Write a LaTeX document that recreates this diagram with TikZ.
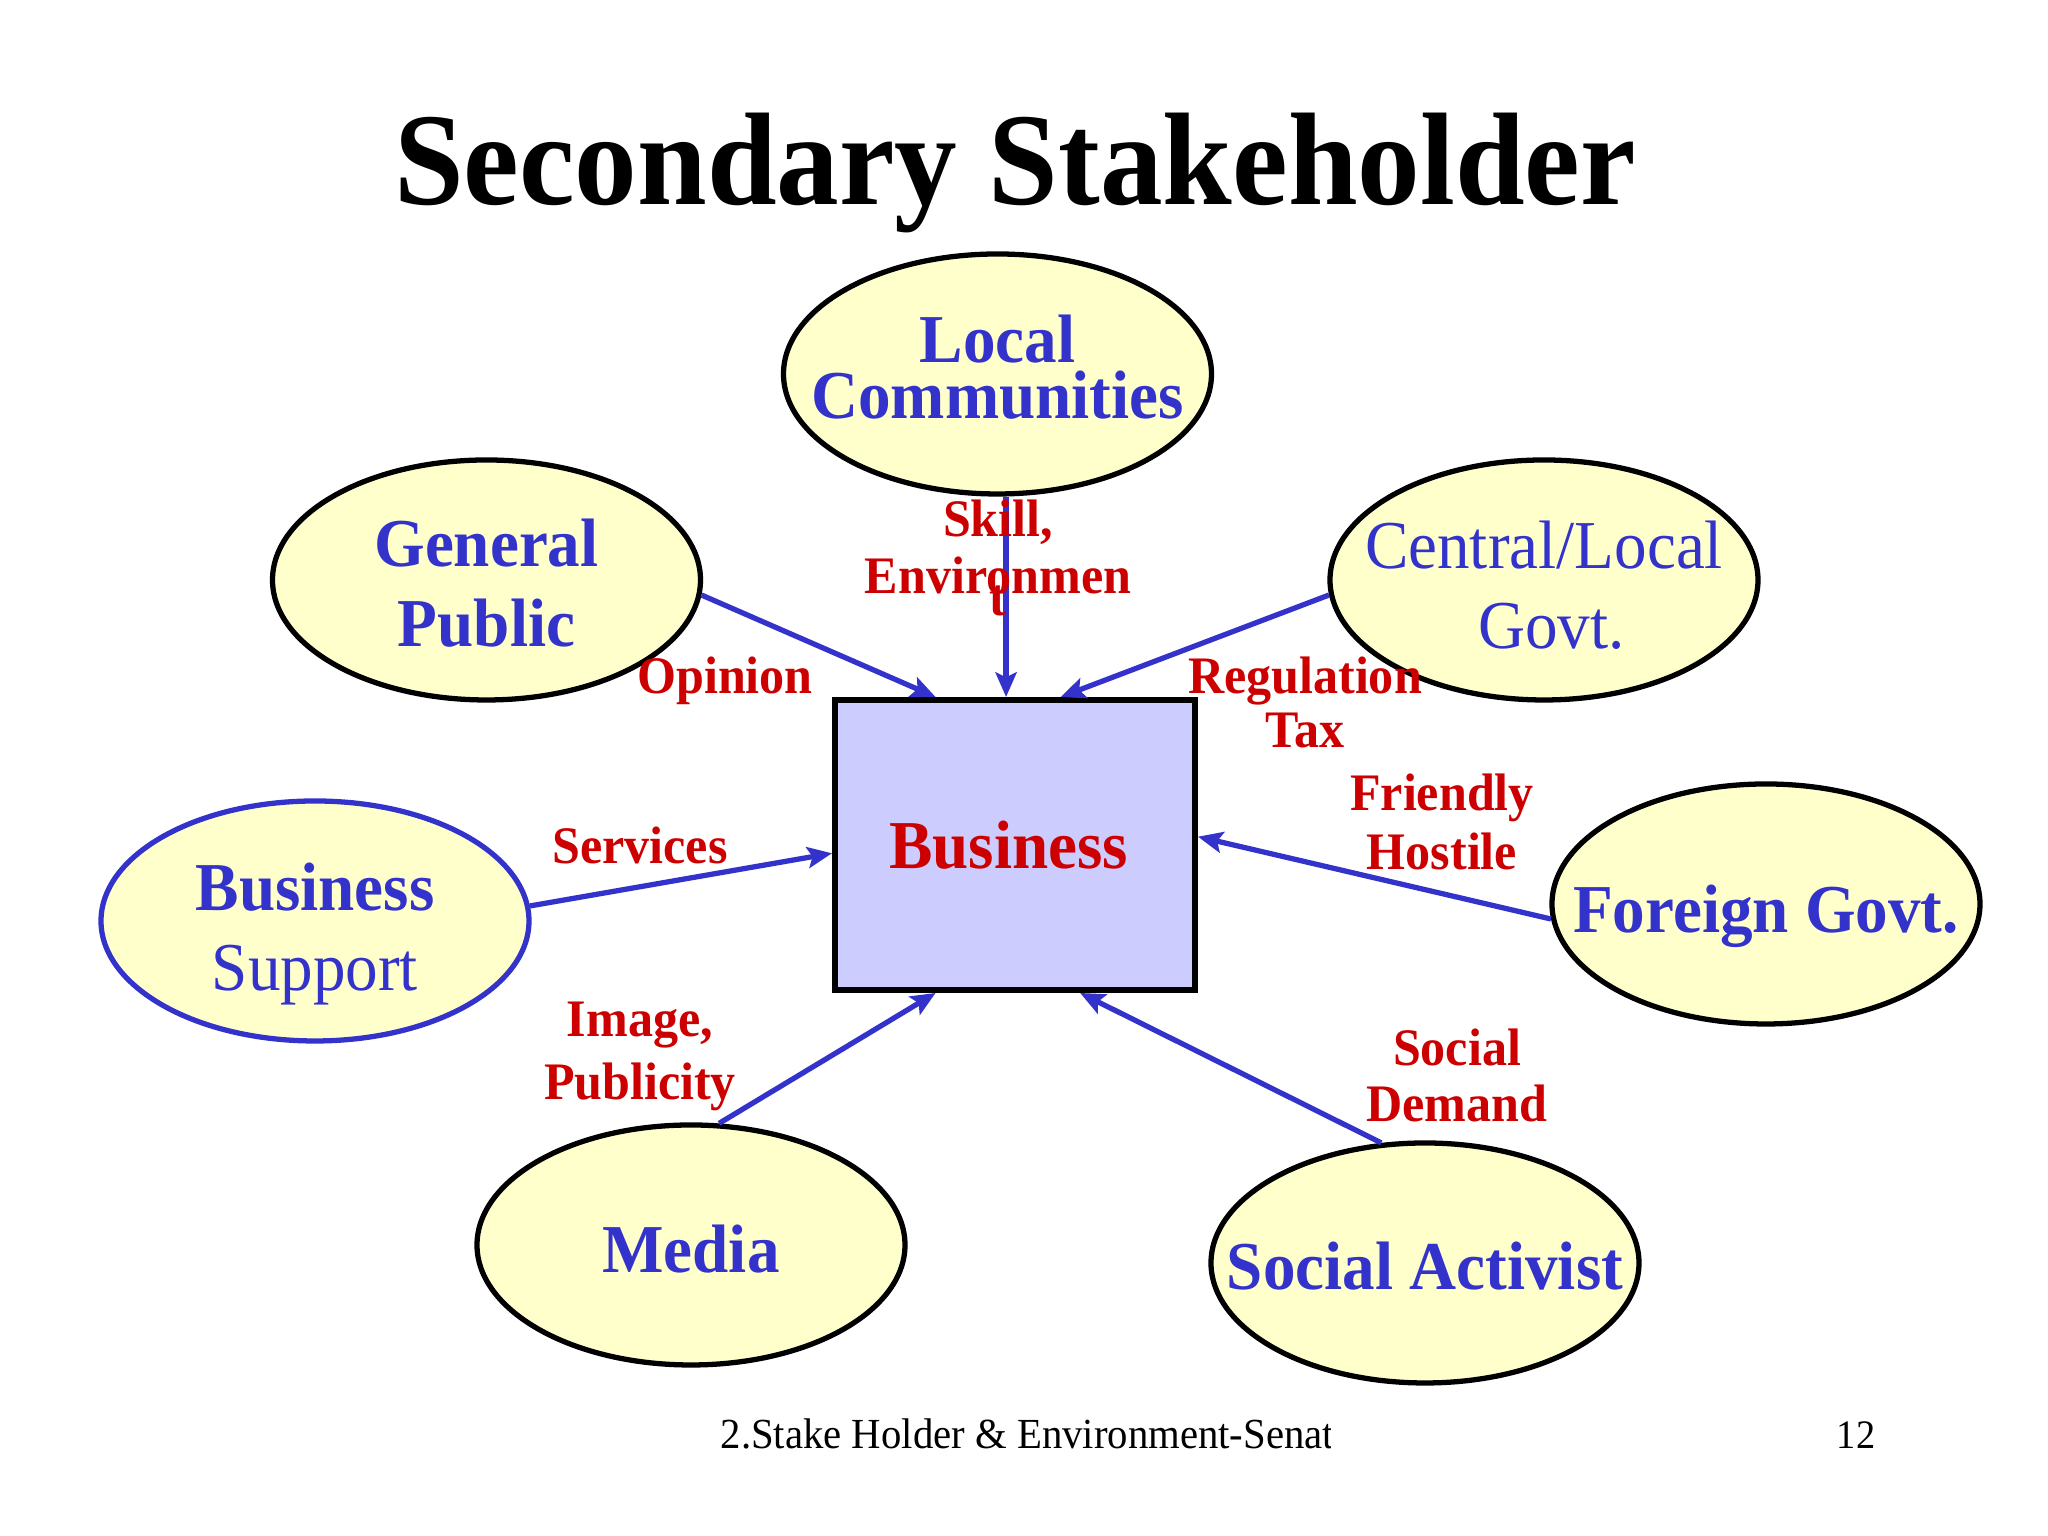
\documentclass[tikz,border=0pt]{standalone}
\usepackage{fontspec}
\setmainfont{Liberation Serif}[FakeStretch=0.95]
\usetikzlibrary{calc,shapes.geometric,arrows.meta}

\definecolor{stkblue}{HTML}{3333CC}
\definecolor{stkred}{HTML}{CC0000}
\definecolor{stkyellow}{HTML}{FFFFCC}
\definecolor{stklilac}{HTML}{CCCCFF}

\begin{document}
\begin{tikzpicture}[
  holder/.style={ellipse, draw=black, line width=1.5pt, fill=stkyellow,
    minimum width=4.28cm, minimum height=2.40cm, inner sep=0pt},
  holdtext/.style={text=stkblue, align=center, inner sep=0pt,
    font=\bfseries\fontsize{19.5}{22.8}\selectfont},
  flowlbl/.style={text=stkred, align=center, inner sep=0pt,
    font=\bfseries\fontsize{15}{15.5}\selectfont},
  flow/.style={draw=stkblue, line width=1.5pt,
    -{Stealth[length=7pt,width=6pt,inset=1.4pt]}}
]

% 画布大小
\useasboundingbox (0,0) rectangle (20.48,15.36);

% 标题
\node[anchor=base, font=\bfseries\fontsize{37.5}{40}\selectfont] (title) at (10.15,13.31) {Secondary Stakeholder};

% 定义各椭圆中心
\coordinate (LC) at (9.975,11.62);
\coordinate (GP) at (4.865,9.56);
\coordinate (CG) at (15.44,9.56);
\coordinate (BS) at (3.15,6.15);
\coordinate (FG) at (17.66,6.32);
\coordinate (MD) at (6.91,2.91);
\coordinate (SA) at (14.25,2.73);

% 中间的方框
\node[draw=black, line width=1.7pt, fill=stklilac, minimum width=3.6cm, minimum height=2.9cm,
  inner sep=0pt, text=stkred, font=\bfseries\fontsize{19.5}{22}\selectfont] (biz) at (10.15,6.91) {\hspace*{-0.13cm}Business};

% 绘制椭圆 (7个)
\node[holder] (lc) at (LC) {};
\node[holder] (gp) at (GP) {};
\node[holder] (cg) at (CG) {};
\node[holder, draw=stkblue] (bs) at (BS) {};
\node[holder] (fg) at (FG) {};
\node[holder] (md) at (MD) {};
\node[holder] (sa) at (SA) {};

% 椭圆里的文字
\node[holdtext, font=\bfseries\fontsize{19.5}{16}\selectfont] (lc-t) at ($(LC)+(0,0.07)$) {Local\\Communities};
\node[holdtext] (gp-t) at ($(GP)+(0,-0.03)$) {General\\Public};
\node[holdtext, font=\mdseries\fontsize{19.5}{22.8}\selectfont] (cg-t) at ($(CG)+(0,-0.05)$) {Central/Local\\\hspace*{0.15cm}Govt.};
\node[holdtext] (bs-t) at ($(BS)+(0,-0.13)$) {Business\\{\mdseries Support}};
\node[holdtext] (fg-t) at ($(FG)+(0,-0.12)$) {Foreign Govt.};
\node[holdtext] (md-t) at ($(MD)+(0,-0.045)$) {Media};
\node[holdtext] (sa-t) at ($(SA)+(0,-0.035)$) {Social Activist};

% 箭头
\draw[flow] (gp.-4) -- ($(biz.north west)!0.283!(biz.north east)$);
\draw[flow] (lc.-86) -- (lc.-86 |- biz.north);
\draw[flow] (cg.184) -- ($(biz.north west)!0.625!(biz.north east)$);
\draw[flow] (bs.4) -- ($(biz.north west)!0.528!(biz.south west)$);
\draw[flow] (fg.184) -- ($(biz.north east)!0.472!(biz.south east)$);
\draw[flow] (md.77) -- ($(biz.south west)!0.283!(biz.south east)$);
\draw[flow] (sa.110) -- ($(biz.south west)!0.678!(biz.south east)$);

% 箭头上的标签
\node[flowlbl, font=\bfseries\fontsize{15}{16}\selectfont] (lbl-lc) at (9.98,9.78) {Skill,\\Environmen\\[-9.7pt]t};
\node[flowlbl] (lbl-gp) at (7.25,8.55) {Opinion};
\node[flowlbl] (lbl-cg) at (13.05,8.335) {Regulation\\Tax};
\node[flowlbl, font=\bfseries\fontsize{15}{17}\selectfont] (lbl-fg) at (14.42,7.14) {Friendly\\Hostile};
\node[flowlbl] (lbl-bs) at (6.40,6.91) {Services};
\node[flowlbl, font=\bfseries\fontsize{15}{17.9}\selectfont] (lbl-md) at (6.40,4.795) {Image,\\Publicity};
\node[flowlbl, font=\bfseries\fontsize{15}{16.2}\selectfont] (lbl-sa) at (14.57,4.605) {Social\\Demand};

% 页脚
\begin{scope}
  \clip (0,0) rectangle (13.30,1.4);
  \node[anchor=base west, inner sep=0pt, font=\fontsize{12.2}{14}\selectfont] (foot) at (7.20,0.87) {2.Stake Holder \& Environment-Senator};
\end{scope}
\node[anchor=base, inner sep=0pt, font=\fontsize{11.5}{13}\selectfont] (page) at (18.56,0.87) {12};

\end{tikzpicture}
\end{document}
